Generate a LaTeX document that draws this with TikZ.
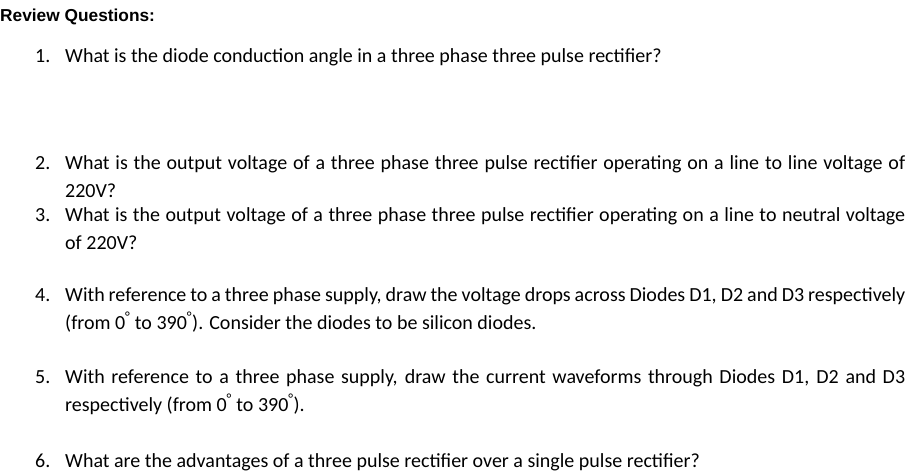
\documentclass[tikz,border=0pt]{standalone}
\usepackage{fontspec}
\setmainfont{Carlito}
\newfontfamily\titlefont{Liberation Sans}
\begin{document}
\begin{tikzpicture}[x=1pt,y=1pt,
  txt/.style={anchor=base west,inner sep=0pt,font=\fontsize{20}{24}\selectfont},
  num/.style={anchor=base west,inner sep=0pt,font=\fontsize{20}{24}\selectfont}]
\useasboundingbox (0,0) rectangle (910,-476);
\node[anchor=base west,inner sep=0pt,font=\titlefont\bfseries\fontsize{17.3}{20}\selectfont] (t) at (0,-22) {Review Questions:};
\node[num] (n1) at (35,-63) {1.};
\node[txt] (q1) at (65,-63) {What is the diode conduction angle in a three phase three pulse rectifier?};
\node[num] (n2) at (35,-169) {2.};
\node[txt] (q2a) at (65,-169) {\makebox[840pt][s]{What is the output voltage of a three phase three pulse rectifier operating on a line to line voltage of}};
\node[txt] (q2b) at (65,-197) {220V?};
\node[num] (n3) at (35,-221) {3.};
\node[txt] (q3a) at (65,-221) {\makebox[840pt][s]{What is the output voltage of a three phase three pulse rectifier operating on a line to neutral voltage}};
\node[txt] (q3b) at (65,-249) {of 220V?};
\node[num] (n4) at (35,-301) {4.};
\node[txt] (q4a) at (65,-301) {\makebox[840pt][s]{With reference to a three phase supply, draw the voltage drops across Diodes D1, D2 and D3 respectively}};
\node[txt] (q4b) at (65,-329) {(from 0\textsuperscript{°} to 390\textsuperscript{°}). Consider the diodes to be silicon diodes.};
\node[num] (n5) at (35,-383) {5.};
\node[txt] (q5a) at (65,-383) {\makebox[840pt][s]{With reference to a three phase supply, draw the current waveforms through Diodes D1, D2 and D3}};
\node[txt] (q5b) at (65,-411) {respectively (from 0\textsuperscript{°} to 390\textsuperscript{°}).};
\node[num] (n6) at (35,-467) {6.};
\node[txt] (q6) at (65,-467) {What are the advantages of a three pulse rectifier over a single pulse rectifier?};
\end{tikzpicture}
\end{document}
